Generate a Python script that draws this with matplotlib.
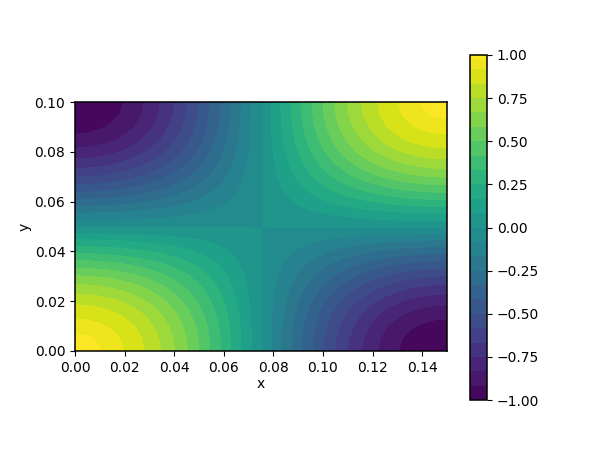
import matplotlib
matplotlib.use('Agg')
import matplotlib.pyplot as plt
import numpy as np

x = [0.000, 0.005, 0.010, 0.015, 0.020, 0.025, 0.030, 0.035, 0.040, 0.045, 0.050,
     0.055, 0.060, 0.065, 0.070, 0.075, 0.080, 0.085, 0.090, 0.095, 0.100,
     0.105, 0.110, 0.115, 0.120, 0.125, 0.130, 0.135, 0.140, 0.145, 0.150]
y = [0.000, 0.005, 0.010, 0.015, 0.020, 0.025, 0.030, 0.035, 0.040, 0.045, 0.050,
     0.055, 0.060, 0.065, 0.070, 0.075, 0.080, 0.085, 0.090, 0.095, 0.100]

# one row per y value, bottom row first
z = [
    [1.000, .995, .978, .951, .914, .866, .809, .743, .669, .588, .500, .407, .309, .208, .105, .013, -.105, -.208, -.309, -.407, -.500, -.588, -.669, -.743, -.809, -.866, -.914, -.951, -.978, -.995, -1.000],
    [.988, .983, .966, .940, .903, .856, .799, .734, .661, .581, .494, .402, .305, .206, .104, .013, -.104, -.206, -.305, -.402, -.494, -.581, -.661, -.734, -.799, -.856, -.903, -.940, -.966, -.983, -.988],
    [.951, .946, .930, .904, .869, .824, .769, .707, .636, .559, .476, .387, .294, .198, .100, .012, -.100, -.198, -.294, -.387, -.476, -.559, -.636, -.707, -.769, -.824, -.869, -.904, -.930, -.946, -.951],
    [.891, .887, .871, .847, .814, .772, .721, .662, .596, .524, .446, .363, .275, .185, .094, .012, -.094, -.185, -.275, -.363, -.446, -.524, -.596, -.662, -.721, -.772, -.814, -.847, -.871, -.887, -.891],
    [.809, .805, .791, .769, .739, .701, .654, .601, .541, .476, .405, .329, .250, .168, .085, .011, -.085, -.168, -.250, -.329, -.405, -.476, -.541, -.601, -.654, -.701, -.739, -.769, -.791, -.805, -.809],
    [.707, .703, .691, .672, .646, .612, .572, .525, .473, .416, .354, .288, .218, .147, .074, .009, -.074, -.147, -.218, -.288, -.354, -.416, -.473, -.525, -.572, -.612, -.646, -.672, -.691, -.703, -.707],
    [.588, .585, .575, .559, .537, .509, .476, .437, .393, .346, .294, .239, .182, .122, .062, .008, -.062, -.122, -.182, -.239, -.294, -.346, -.393, -.437, -.476, -.509, -.537, -.559, -.575, -.585, -.588],
    [.454, .452, .444, .432, .415, .393, .367, .337, .304, .267, .227, .185, .140, .094, .048, .006, -.048, -.094, -.140, -.185, -.227, -.267, -.304, -.337, -.367, -.393, -.415, -.432, -.444, -.452, -.454],
    [.309, .307, .302, .294, .282, .268, .250, .230, .207, .182, .155, .126, .095, .064, .032, .004, -.032, -.064, -.095, -.126, -.155, -.182, -.207, -.230, -.250, -.268, -.282, -.294, -.302, -.307, -.309],
    [.156, .155, .153, .148, .143, .135, .126, .116, .104, .092, .078, .063, .048, .032, .016, .002, -.016, -.032, -.048, -.063, -.078, -.092, -.104, -.116, -.126, -.135, -.143, -.148, -.153, -.155, -.156],
    [-.020, -.020, -.020, -.019, -.018, -.017, -.016, -.015, -.013, -.012, -.010, -.008, -.006, -.004, -.002, -.0003, .002, .004, .006, .008, .010, .012, .013, .015, .016, .017, .018, .019, .020, .020, .020],
    [-.156, -.155, -.153, -.148, -.143, -.135, -.126, -.116, -.104, -.092, -.078, -.063, -.048, -.032, -.016, -.002, .016, .032, .048, .063, .078, .092, .104, .116, .126, .135, .143, .148, .153, .155, .156],
    [-.309, -.307, -.302, -.294, -.282, -.268, -.250, -.230, -.207, -.182, -.155, -.126, -.095, -.064, -.032, -.004, .032, .064, .095, .126, .155, .182, .207, .230, .250, .268, .282, .294, .302, .307, .309],
    [-.454, -.452, -.444, -.432, -.415, -.393, -.367, -.337, -.304, -.267, -.227, -.185, -.140, -.094, -.048, -.006, .048, .094, .140, .185, .227, .267, .304, .337, .367, .393, .415, .432, .444, .452, .454],
    [-.588, -.585, -.575, -.559, -.537, -.509, -.476, -.437, -.393, -.346, -.294, -.239, -.182, -.122, -.062, -.008, .062, .122, .182, .239, .294, .346, .393, .437, .476, .509, .537, .559, .575, .585, .588],
    [-.707, -.703, -.691, -.672, -.646, -.612, -.572, -.525, -.473, -.416, -.354, -.288, -.218, -.147, -.074, -.009, .074, .147, .218, .288, .354, .416, .473, .525, .572, .612, .646, .672, .691, .703, .707],
    [-.809, -.805, -.791, -.769, -.739, -.701, -.654, -.601, -.541, -.476, -.405, -.329, -.250, -.168, -.085, -.011, .085, .168, .250, .329, .405, .476, .541, .601, .654, .701, .739, .769, .791, .805, .809],
    [-.891, -.887, -.871, -.847, -.814, -.772, -.721, -.662, -.596, -.524, -.446, -.363, -.275, -.185, -.094, -.012, .094, .185, .275, .363, .446, .524, .596, .662, .721, .772, .814, .847, .871, .887, .891],
    [-.951, -.946, -.930, -.904, -.869, -.824, -.769, -.707, -.636, -.559, -.476, -.387, -.294, -.198, -.100, -.012, .100, .198, .294, .387, .476, .559, .636, .707, .769, .824, .869, .904, .930, .946, .951],
    [-.988, -.983, -.966, -.940, -.903, -.856, -.799, -.734, -.661, -.581, -.494, -.402, -.305, -.206, -.104, -.013, .104, .206, .305, .402, .494, .581, .661, .734, .799, .856, .903, .940, .966, .983, .988],
    [-1.000, -.995, -.978, -.951, -.914, -.866, -.809, -.743, -.669, -.588, -.500, -.407, -.309, -.208, -.105, -.013, .105, .208, .309, .407, .500, .588, .669, .743, .809, .866, .914, .951, .978, .995, 1.000],
]

levels = [-1.0, -0.917, -0.833, -0.75, -0.667, -0.583, -0.5, -0.417, -0.333, -0.25, -0.167, -0.083, 0.0,
          0.083, 0.167, 0.25, 0.333, 0.417, 0.5, 0.583, 0.667, 0.75, 0.833, 0.917, 0.975, 1.0]
cbar_ticks = [-1.00, -0.75, -0.50, -0.25, 0.00, 0.25, 0.50, 0.75, 1.00]
x_ticks = [0.00, 0.02, 0.04, 0.06, 0.08, 0.10, 0.12, 0.14]
y_ticks = [0.00, 0.02, 0.04, 0.06, 0.08, 0.10]

plt.rcParams['axes.linewidth'] = 1.1

fig = plt.figure(figsize=(6, 4.5), dpi=100)
ax = fig.add_axes([75 / 600, 99 / 450, 372 / 600, 249 / 450])
cs = ax.contourf(np.array(x), np.array(y), np.array(z), levels=levels, cmap='viridis')
ax.set_xlim(0, 0.15)
ax.set_ylim(0, 0.10)
ax.set_xticks(x_ticks)
ax.set_yticks(y_ticks)
ax.set_xticklabels(['%.2f' % t for t in x_ticks])
ax.set_yticklabels(['%.2f' % t for t in y_ticks])
ax.set_xlabel('x', labelpad=2)
ax.set_ylabel('y', labelpad=2)

cax = fig.add_axes([470 / 600, 50 / 450, 17 / 600, 345 / 450])
cbar = fig.colorbar(cs, cax=cax, spacing='proportional')
cbar.set_ticks(cbar_ticks)
cbar.set_ticklabels(['%.2f' % t if t >= 0 else '\u2212%.2f' % abs(t) for t in cbar_ticks])

fig.savefig('out.png', dpi=100)
